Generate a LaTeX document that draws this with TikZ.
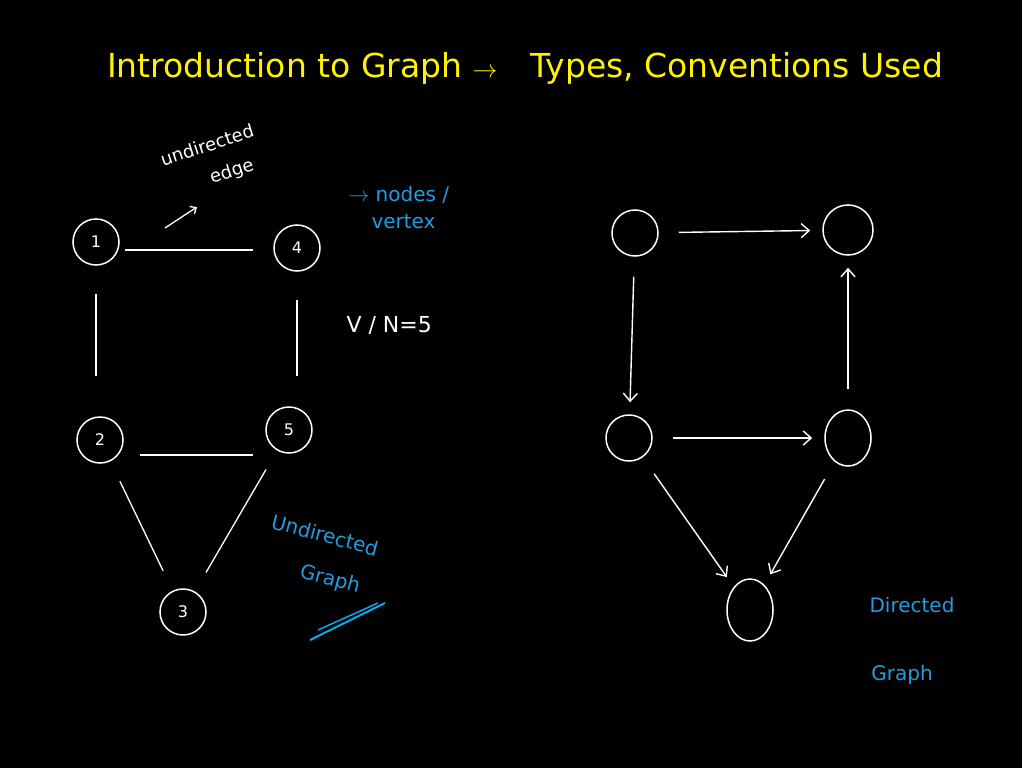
\documentclass[tikz,border=0pt]{standalone}
\usepackage{fontspec}
\setmainfont{DejaVu Sans}
\usetikzlibrary{arrows.meta,shapes.geometric}
\begin{document}
\begin{tikzpicture}[x=1pt,y=-1pt,
  vtx/.style={circle,draw=white,line width=1.5pt,minimum size=46pt,text=white,font=\fontsize{16}{18}\selectfont},
  ln/.style={draw=white,line width=1.3pt,shorten >=22pt,shorten <=22pt},
  arr/.style={draw=white,line width=1.4pt,-{Straight Barb[length=8pt,width=14pt]},shorten >=12pt,shorten <=20pt},
  cyantxt/.style={text=cyan!80!blue!90!white,font=\fontsize{20}{24}\selectfont},
  wtxt/.style={text=white,font=\fontsize{18}{20}\selectfont}]
\fill[black] (0,0) rectangle (1022,768);
\useasboundingbox (0,0) rectangle (1022,768);
\node[text=yellow,font=\fontsize{33}{36}\selectfont] (title) at (525,68) {Introduction to Graph $\rightarrow$\quad Types, Conventions Used};
% undirected
\node[vtx] (n1) at (96,242) {1};
\node[vtx] (n4) at (297,248) {4};
\node[vtx] (n2) at (100,440) {2};
\node[vtx] (n5) at (289,430) {5};
\node[vtx] (n3) at (183,612) {3};
\draw[ln,shorten <=5pt,shorten >=20pt] ([yshift=-8pt]n1.east) -- ([yshift=-8pt]n1.east -| n4.west);
\draw[ln,shorten <=28pt,shorten >=40pt] (n1.south) -- (n1.south |- n2.north);
\draw[ln,shorten <=28pt,shorten >=30pt] (n4.south) -- (n4.south |- n5.north);
\draw[ln,shorten <=16pt,shorten >=12pt] ([yshift=-15pt]n2.east) -- ([yshift=-15pt]n2.east -| n5.west);
\draw[ln] (n2) -- (n3);
\draw[ln] (n5) -- (n3);
\node[wtxt,rotate=18] (ue1) at (207,145) {undirected};
\node[wtxt,rotate=18] (ue2) at (232,172) {edge};
\coordinate (ua) at (165,228);
\draw[draw=white,line width=1.3pt,-{Straight Barb[length=5pt,width=9pt]}] (ua) -- (197,207);
\node[cyantxt,anchor=west] (nv1) at (345,195) {$\rightarrow$ nodes /};
\node[cyantxt,anchor=west] (nv2) at (368,222) {vertex};
\node[wtxt,anchor=west,font=\fontsize{22}{24}\selectfont] (vn) at (343,325) {V / N=5};
\node[cyantxt,rotate=-15] (ug1) at (325,535) {Undirected};
\node[cyantxt,rotate=-15] (ug2) at (330,580) {Graph};
\draw[cyan,line width=2pt] (310,640) -- (385,603);
\draw[cyan,line width=1.5pt] (318,630) -- (378,603);
% directed
\node[vtx] (A) at (635,233) {};
\node[vtx,minimum size=50pt] (B) at (848,230) {};
\node[vtx] (C) at (629,438) {};
\node[vtx,ellipse,minimum width=46pt,minimum height=56pt] (D) at (848,438) {};
\node[vtx,ellipse,minimum width=46pt,minimum height=62pt] (E) at (750,610) {};
\draw[arr] (A) -- (B);
\draw[arr] (A) -- (C);
\draw[arr] (C) -- (D);
\draw[arr] (D) -- (B);
\draw[arr] (C) -- (E);
\draw[arr] (D) -- (E);
\node[cyantxt] (dg1) at (912,605) {Directed};
\node[cyantxt] (dg2) at (902,675) {Graph};
\end{tikzpicture}
\end{document}
